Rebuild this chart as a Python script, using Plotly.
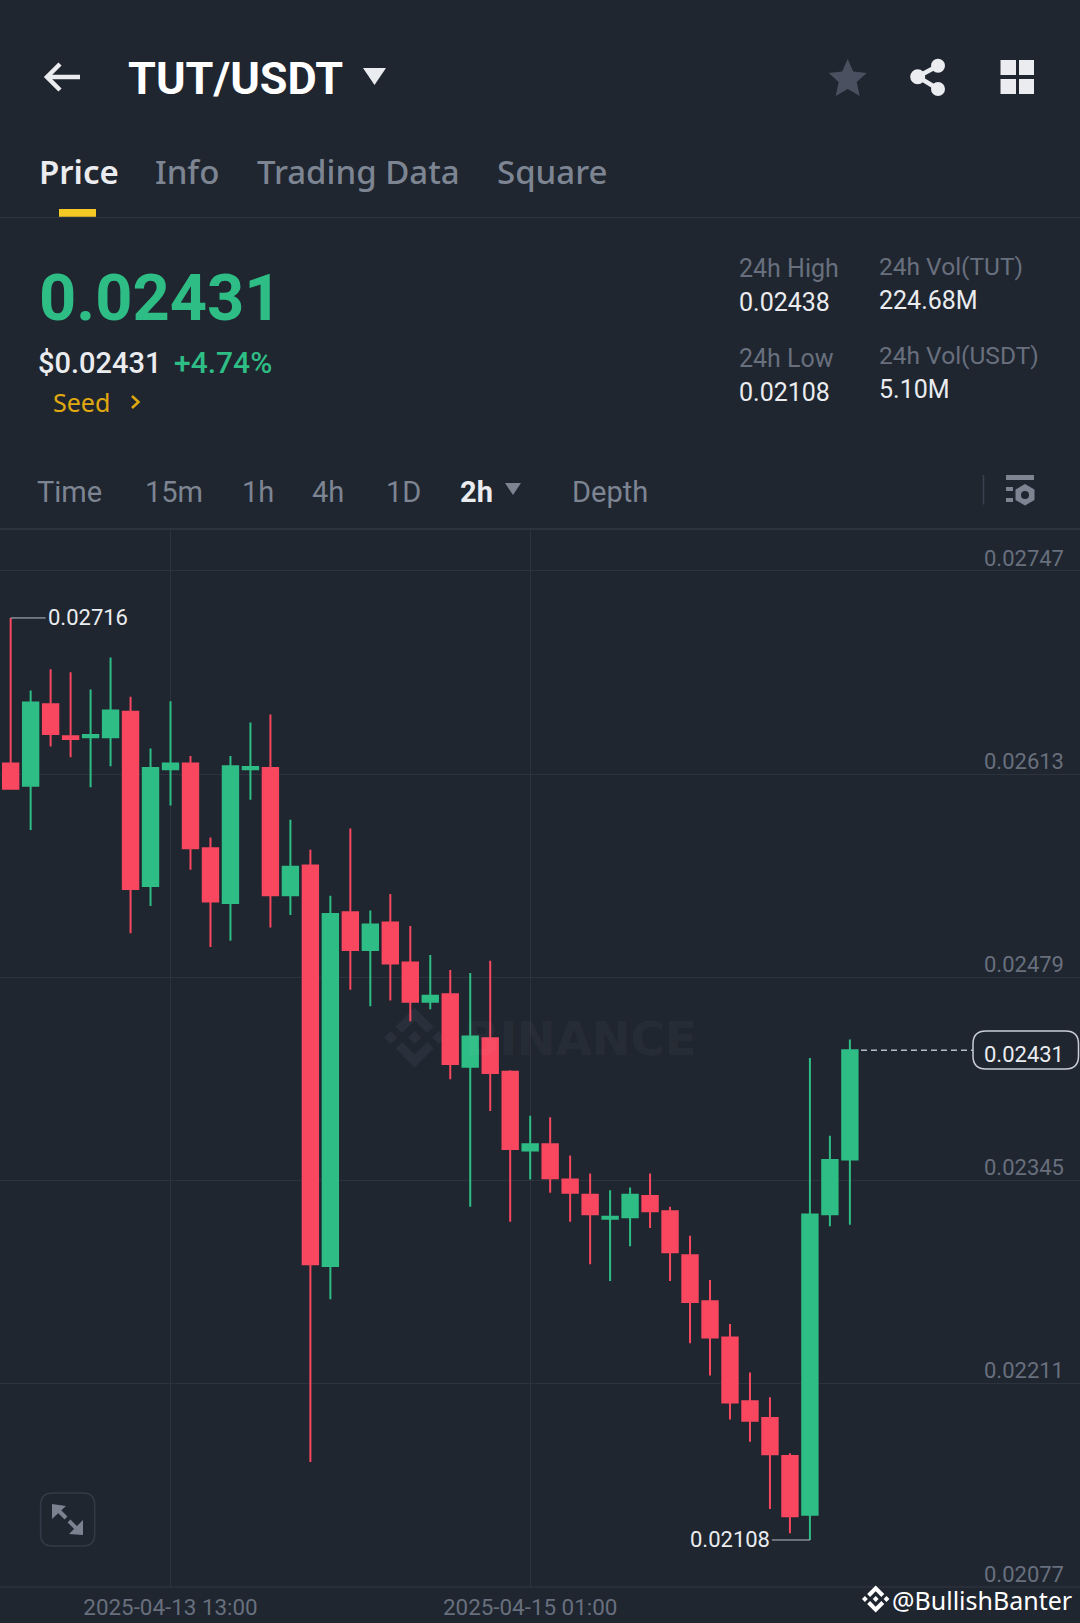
import plotly.graph_objects as go
import pandas as pd

W, H = 1080, 1623
BG = '#1f2630'
GREEN = '#2ebd85'
RED = '#f8475f'
GRID = '#2c333f'
WHITE = '#eaecef'
GREY = '#7d8492'
DIM = '#686f7d'

opens = [0.026201, 0.026053, 0.026591, 0.026380, 0.026373, 0.026373, 0.026541, 0.025392, 0.026162, 0.026201, 0.025642,
         0.025281, 0.026162, 0.026171, 0.025331, 0.025528, 0.022887, 0.025220, 0.024970, 0.025151, 0.024888, 0.024629,
         0.024679, 0.024200, 0.024388, 0.024168, 0.023648, 0.023689, 0.023457, 0.023357, 0.023199, 0.023208, 0.023348,
         0.023248, 0.022958, 0.022654, 0.022415, 0.021995, 0.021884, 0.021634, 0.021246, 0.023228, 0.023589]
highs = [0.027160, 0.026682, 0.026821, 0.026802, 0.026689, 0.026900, 0.026641, 0.026300, 0.026611, 0.026250, 0.025712,
         0.026250, 0.026471, 0.026523, 0.025830, 0.025631, 0.025329, 0.025771, 0.025231, 0.025340, 0.025129, 0.024938,
         0.024838, 0.024818, 0.024899, 0.024177, 0.023877, 0.023868, 0.023616, 0.023496, 0.023387, 0.023405, 0.023496,
         0.023278, 0.023087, 0.022794, 0.022504, 0.022184, 0.022022, 0.021652, 0.024259, 0.023746, 0.024380]
lows = [0.026033, 0.025762, 0.026312, 0.026241, 0.026044, 0.026182, 0.025081, 0.025260, 0.025923, 0.025499, 0.024990,
        0.025031, 0.025962, 0.025119, 0.025201, 0.021595, 0.022667, 0.024709, 0.024600, 0.024638, 0.024500, 0.024579,
        0.024118, 0.023278, 0.023909, 0.023178, 0.023457, 0.023369, 0.023178, 0.022899, 0.022788, 0.023017, 0.023137,
        0.022788, 0.022377, 0.022165, 0.021875, 0.021727, 0.021284, 0.021125, 0.021080, 0.023149, 0.023158]
closes = [0.026033, 0.026602, 0.026394, 0.026362, 0.026389, 0.026550, 0.025372, 0.026171, 0.026201, 0.025642, 0.025290,
          0.026182, 0.026178, 0.025331, 0.025519, 0.022899, 0.025208, 0.024970, 0.025138, 0.024881, 0.024629, 0.024668,
          0.024218, 0.024400, 0.024159, 0.023659, 0.023689, 0.023466, 0.023369, 0.023228, 0.023212, 0.023357, 0.023248,
          0.022978, 0.022649, 0.022415, 0.021986, 0.021866, 0.021645, 0.021237, 0.023226, 0.023585, 0.024310]
dates = pd.date_range('2025-04-12 21:00', periods=len(opens), freq='2h')

price_ticks = [0.02747, 0.02613, 0.02479, 0.02345, 0.02211, 0.02077]
date_ticks = ['2025-04-13 13:00', '2025-04-15 01:00']
x_range = ['2025-04-12 19:56', '2025-04-17 08:02']
y_range = [0.02077, 0.02774]

tabs = [('Price', 40, WHITE), ('Info', 156, GREY), ('Trading Data', 258, GREY), ('Square', 498, GREY)]
intervals = [('Time', 38), ('15m', 146), ('1h', 243), ('4h', 313), ('1D', 387), ('Depth', 573)]
stats = [('24h High', 740, 268, DIM, 25), ('0.02438', 740, 302, WHITE, 25),
         ('24h Low', 740, 358, DIM, 25), ('0.02108', 740, 392.5, WHITE, 25),
         ('24h Vol(TUT)', 880, 266, DIM, 24.5), ('224.68M', 880, 300.5, WHITE, 25),
         ('24h Vol(USDT)', 880, 355.5, DIM, 24.5), ('5.10M', 880, 390, WHITE, 25)]


def px(x, y):
    return x / W, 1 - y / H


def path(points, close=True):
    parts = []
    for i, (x, y) in enumerate(points):
        xp, yp = px(x, y)
        parts.append(('M' if i == 0 else 'L') + f'{xp:.5f},{yp:.5f}')
    return ' '.join(parts) + (' Z' if close else '')


def poly(points, color, layer='above'):
    return dict(type='path', xref='paper', yref='paper', path=path(points), fillcolor=color,
                line=dict(width=0), layer=layer)


def stroke(points, color, width):
    return dict(type='path', xref='paper', yref='paper', path=path(points, close=False),
                line=dict(color=color, width=width))


def rect(x0, y0, x1, y1, color):
    a, b = px(x0, y0)
    c, d = px(x1, y1)
    return dict(type='rect', xref='paper', yref='paper', x0=a, y0=b, x1=c, y1=d, fillcolor=color, line=dict(width=0))


def circle(cx, cy, r, color):
    a, b = px(cx - r, cy - r)
    c, d = px(cx + r, cy + r)
    return dict(type='circle', xref='paper', yref='paper', x0=a, y0=b, x1=c, y1=d, fillcolor=color, line=dict(width=0))


def round_box(x0, y0, x1, y1, r, color, width, fill='rgba(0,0,0,0)'):
    segs = []
    pts = [('M', x0 + r, y0), ('L', x1 - r, y0), ('Q', x1, y0, x1, y0 + r), ('L', x1, y1 - r), ('Q', x1, y1, x1 - r, y1),
           ('L', x0 + r, y1), ('Q', x0, y1, x0, y1 - r), ('L', x0, y0 + r), ('Q', x0, y0, x0 + r, y0)]
    for p in pts:
        if p[0] == 'Q':
            a, b = px(p[1], p[2])
            c, d = px(p[3], p[4])
            segs.append(f'Q{a:.5f},{b:.5f} {c:.5f},{d:.5f}')
        else:
            a, b = px(p[1], p[2])
            segs.append(f'{p[0]}{a:.5f},{b:.5f}')
    return dict(type='path', xref='paper', yref='paper', path=' '.join(segs) + ' Z', fillcolor=fill,
                line=dict(color=color, width=width))


def binance_logo(cx, cy, r, color, layer):
    k = r / 30
    out = []
    for dx, dy in [(0, 0), (-24, 0), (24, 0)]:
        h = 6.5
        out.append(poly([(cx + (dx - h) * k, cy), (cx + dx * k, cy - h * k), (cx + (dx + h) * k, cy), (cx + dx * k, cy + h * k)],
                        color, layer))
    for s in [-1, 1]:
        out.append(poly([(cx, cy + s * 30 * k), (cx + 19 * k, cy + s * 11 * k), (cx + 12.5 * k, cy + s * 4.5 * k),
                         (cx, cy + s * 17 * k), (cx - 12.5 * k, cy + s * 4.5 * k), (cx - 19 * k, cy + s * 11 * k)],
                        color, layer))
    return out


texts = []


def label(x, y, text, size, color, family='Roboto', weight=400, anchor='left'):
    # annotations sit a few px right of the anchor, pull the left aligned ones back
    xp, yp = px(x - 3 if anchor == 'left' else x, y)
    texts.append(dict(xref='paper', yref='paper', x=xp, y=yp, text=text, showarrow=False, xanchor=anchor, yanchor='middle',
                      font=dict(family=family, size=size, color=color, weight=weight)))


fig = go.Figure()
fig.add_trace(go.Candlestick(
    x=dates, open=opens, high=highs, low=lows, close=closes,
    increasing=dict(line=dict(color=GREEN, width=2), fillcolor=GREEN),
    decreasing=dict(line=dict(color=RED, width=2), fillcolor=RED),
    whiskerwidth=0,
))

# header text
label(129, 79, 'TUT/USDT', 45, '#ffffff', weight=700)
for name, x, color in tabs:
    label(x, 171, name, 33, color, family='Noto Sans', weight=600 if name == 'Price' else 500)
label(40, 298, '0.02431', 65, GREEN, weight=700)
label(39, 363, '$0.02431', 29, WHITE, weight=500)
label(175, 363, '+4.74%', 30, GREEN, weight=500)
label(54, 402, 'Seed', 25, '#e0a90f', family='Noto Sans')
for name, x, y, color, size in stats:
    label(x, y, name, size, color)
for name, x in intervals:
    label(x, 492, name, 29, GREY)
label(461, 492, '2h', 29, WHITE, weight=700)

# chart labels
label(465, 1038.5, 'BINANCE', 46.5, 'rgba(255,255,255,0.055)', family='DejaVu Sans', weight=700)
label(1024, 1054, f'{closes[-1]:.5f}', 22, WHITE, anchor='center')
label(893, 1599.5, '@BullishBanter', 25, '#ffffff', family='Noto Sans')

i_hi = highs.index(max(highs))
i_lo = lows.index(min(lows))
texts.append(dict(x=dates[i_hi], y=highs[i_hi], ax=35, ay=0, text=f'{highs[i_hi]:.5f}', xanchor='left', yanchor='middle',
                  showarrow=True, arrowhead=0, arrowwidth=1, arrowcolor='#b7bdc6', font=dict(family='Roboto', size=22, color=WHITE)))
texts.append(dict(x=dates[i_lo], y=lows[i_lo], ax=-38, ay=0, text=f'{lows[i_lo]:.5f}', xanchor='right', yanchor='middle',
                  showarrow=True, arrowhead=0, arrowwidth=1, arrowcolor='#b7bdc6', font=dict(family='Roboto', size=22, color=WHITE)))

shapes = []
shapes.append(stroke([(47, 77), (80, 77)], WHITE, 4.5))
shapes.append(stroke([(60, 64), (47, 77), (60, 90)], WHITE, 4.5))
shapes.append(poly([(363, 68), (386, 68), (374.5, 85)], WHITE))
star = []
for i, (dx, dy) in enumerate([(0, -19), (5.5, -6.5), (19, -5), (9, 4), (12, 18), (0, 11), (-12, 18), (-9, 4), (-19, -5), (-5.5, -6.5)]):
    star.append((847.7 + dx, 78 + dy))
shapes.append(poly(star, '#4a505f'))
shapes.append(stroke([(938, 65.7), (917.7, 76.7), (938, 89)], WHITE, 4.5))
shapes += [circle(938, 65.7, 7, WHITE), circle(917.7, 76.7, 7.5, WHITE), circle(938, 89, 7, WHITE)]
shapes += [rect(1000.5, 60, 1016, 75, WHITE), rect(1019, 60, 1034, 75, WHITE),
           rect(1000.5, 79, 1016, 94, WHITE), rect(1019, 79, 1034, 94, WHITE)]
shapes.append(rect(59, 209, 96, 217, '#f6c924'))
shapes.append(stroke([(0, 217.5), (W, 217.5)], GRID, 1.5))
shapes.append(stroke([(132, 396), (138.5, 402), (132, 408)], '#e0a90f', 2.5))
shapes.append(poly([(505, 483), (521, 483), (513, 495)], GREY))
shapes.append(stroke([(983.5, 475), (983.5, 504.5)], '#3a404d', 1.5))
shapes += [rect(1006, 475, 1034, 480, GREY), rect(1006, 487, 1013, 491, GREY), rect(1006, 498, 1013, 502, GREY)]
hexagon = [(1025, 484), (1034.5, 489.5), (1034.5, 500), (1025, 505.5), (1015.5, 500), (1015.5, 489.5)]
shapes.append(poly(hexagon, GREY))
shapes.append(circle(1025, 495, 4, BG))
shapes.append(stroke([(0, 529), (W, 529)], GRID, 2))
shapes.append(stroke([(0, 1587), (W, 1587)], GRID, 1.5))

# expand button
shapes.append(round_box(40.6, 1493, 94.7, 1546, 12, '#343b48', 1.5))
shapes.append(poly([(52, 1504), (66, 1506), (52, 1519)], '#7c8290'))
shapes.append(poly([(83, 1535), (69, 1534), (83, 1520)], '#7c8290'))
shapes.append(stroke([(58, 1510), (66, 1518)], '#7c8290', 4))
shapes.append(stroke([(69, 1521), (77, 1529)], '#7c8290', 4))

# last price tag
shapes.append(round_box(973, 1031, 1078.5, 1069, 13, '#c9ced6', 1.5, fill=BG))
xa, _ = px(861, 0)
xb, _ = px(973, 0)
shapes.append(dict(type='line', xref='paper', yref='y', x0=xa, x1=xb, y0=closes[-1], y1=closes[-1],
                   line=dict(color='#b7bdc6', width=1.5, dash='6px,4px')))

shapes += binance_logo(414.6, 1037.6, 30, '#2a303b', 'below')
shapes += binance_logo(875.7, 1599, 13.5, '#ffffff', 'above')

fig.update_layout(
    width=W, height=H,
    margin=dict(l=0, r=0, t=0, b=0),
    paper_bgcolor=BG, plot_bgcolor=BG,
    showlegend=False,
    boxgap=0.23, boxgroupgap=0,
    shapes=shapes,
    annotations=texts,
    font=dict(family='Roboto'),
)
fig.update_xaxes(
    type='date', range=x_range, rangeslider_visible=False, domain=[0, 1],
    tickvals=date_ticks, ticktext=date_ticks, showgrid=True, gridcolor=GRID, gridwidth=1,
    ticks='', tickfont=dict(family='Roboto', size=22.4, color=DIM), zeroline=False, showline=False,
    ticklabelstandoff=5,
)
fig.update_yaxes(
    range=y_range, domain=[36 / H, 1 - 530 / H], side='right', ticklabelposition='inside',
    tickvals=price_ticks, tickformat='.5f', ticklabelshift=-13, ticklabelstandoff=13,
    showgrid=True, gridcolor=GRID, gridwidth=1, ticks='',
    tickfont=dict(family='Roboto', size=22, color=DIM), zeroline=False, showline=False,
)

fig.write_html("out.html", config=dict(displayModeBar=False), post_script="document.body.style.margin='0';")
